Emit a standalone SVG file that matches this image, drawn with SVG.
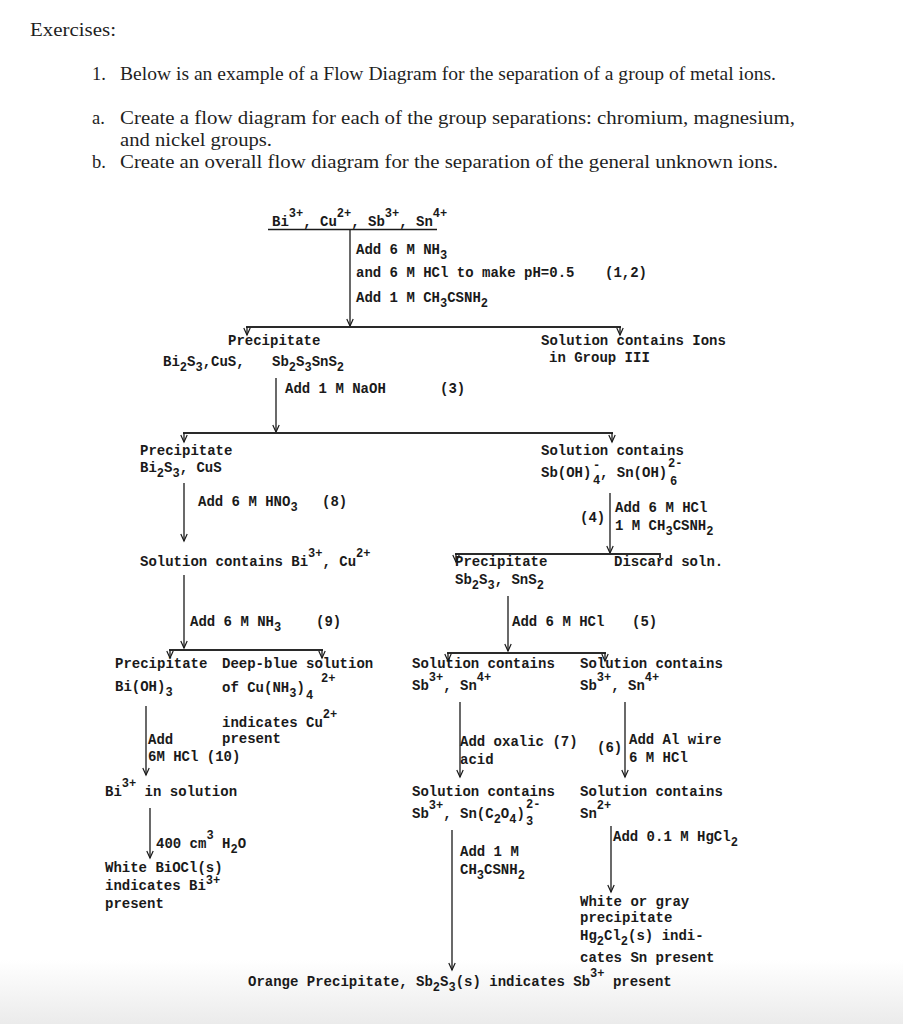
<svg xmlns="http://www.w3.org/2000/svg" width="903" height="1024" viewBox="0 0 903 1024">
<style>
.h{font-family:"Liberation Serif","Times New Roman",serif;font-size:18.5px;fill:#1f1f1f}
.t{font-family:"Liberation Mono","Courier New",monospace;font-size:14px;font-weight:bold;fill:#1a1a1a}
.s{font-size:12px}
.c{fill:none;stroke:#1a1a1a;stroke-width:1.3}
.sp{fill:none;stroke:#2a2a2a;stroke-width:1.8}
.a{marker-end:url(#ah)}
</style>
<defs>
<marker id="ah" markerUnits="userSpaceOnUse" orient="auto" refX="0" refY="0" markerWidth="10" markerHeight="10" style="overflow:visible">
<path d="M-7,-3.2 L0,0 L-7,3.2" fill="none" stroke="#1a1a1a" stroke-width="1.2"/>
</marker>
<linearGradient id="bot" x1="0" y1="0" x2="0" y2="1">
<stop offset="0" stop-color="#ffffff"/>
<stop offset="1" stop-color="#ebebeb"/>
</linearGradient>
</defs>
<rect x="0" y="0" width="903" height="1024" fill="#ffffff"/>
<rect x="0" y="960" width="903" height="64" fill="url(#bot)"/>

<g id="header">
<text class="h" x="30" y="36" textLength="86" lengthAdjust="spacingAndGlyphs">Exercises:</text>
<text class="h" x="92" y="80">1.</text>
<text class="h" x="120" y="80" textLength="656" lengthAdjust="spacingAndGlyphs">Below is an example of a Flow Diagram for the separation of a group of metal ions.</text>
<text class="h" x="92" y="124">a.</text>
<text class="h" x="120" y="124" textLength="675" lengthAdjust="spacingAndGlyphs">Create a flow diagram for each of the group separations: chromium, magnesium,</text>
<text class="h" x="120" y="146" textLength="152" lengthAdjust="spacingAndGlyphs">and nickel groups.</text>
<text class="h" x="92" y="168">b.</text>
<text class="h" x="120" y="168" textLength="658" lengthAdjust="spacingAndGlyphs">Create an overall flow diagram for the separation of the general unknown ions.</text>
</g>

<g id="connectors">
<path class="c" d="M268,229.5 H437"/>
<path class="c a" d="M350,230 V326"/>
<path class="sp" d="M246,327 H621"/>
<path class="c a" d="M247,327 V335"/>
<path class="c a" d="M620,327 V335"/>
<path class="c a" d="M276,378 V432"/>
<path class="sp" d="M183,433 H613"/>
<path class="c a" d="M184,433 V442"/>
<path class="c a" d="M612,433 V442"/>
<path class="c a" d="M184,483 V541"/>
<path class="c a" d="M610,493 V553"/>
<path class="sp" d="M455,554 H660 V558"/>
<path class="c a" d="M456,554 V562"/>
<path class="c a" d="M184,575 V648"/>
<path class="sp" d="M169,650 H323"/>
<path class="c a" d="M170,650 V658"/>
<path class="c a" d="M322,650 V658"/>
<path class="c a" d="M146,706 V775"/>
<path class="c a" d="M150,808 V858"/>
<path class="c a" d="M508,596 V651"/>
<path class="sp" d="M447,653 H606"/>
<path class="c a" d="M448,653 V661"/>
<path class="c a" d="M605,653 V661"/>
<path class="c a" d="M460,702 V777"/>
<path class="c a" d="M625,702 V777"/>
<path class="c a" d="M452,830 V970"/>
<path class="c a" d="M611,826 V892"/>
</g>

<g id="n-start">
<text class="t" x="272" y="226">Bi<tspan class="s" dy="-9">3+</tspan><tspan dy="9">, Cu</tspan><tspan class="s" dy="-9">2+</tspan><tspan dy="9">, Sb</tspan><tspan class="s" dy="-9">3+</tspan><tspan dy="9">, Sn</tspan><tspan class="s" dy="-9">4+</tspan></text>
</g>
<g id="n-step12">
<text class="t" x="356" y="254">Add 6 M NH<tspan class="s" dy="5">3</tspan></text>
<text class="t" x="356" y="277">and 6 M HCl to make pH=0.5</text>
<text class="t" x="605" y="277">(1,2)</text>
<text class="t" x="356" y="302">Add 1 M CH<tspan class="s" dy="5">3</tspan><tspan dy="-5">CSNH</tspan><tspan class="s" dy="5">2</tspan></text>
</g>
<g id="n-ppt1">
<text class="t" x="228" y="345">Precipitate</text>
<text class="t" x="163" y="366">Bi<tspan class="s" dy="5">2</tspan><tspan dy="-5">S</tspan><tspan class="s" dy="5">3</tspan><tspan dy="-5">,CuS,</tspan></text>
<text class="t" x="272" y="366">Sb<tspan class="s" dy="5">2</tspan><tspan dy="-5">S</tspan><tspan class="s" dy="5">3</tspan><tspan dy="-5">SnS</tspan><tspan class="s" dy="5">2</tspan></text>
</g>
<g id="n-groupIII">
<text class="t" x="541" y="345">Solution contains Ions</text>
<text class="t" x="549" y="362">in Group III</text>
</g>
<g id="n-step3">
<text class="t" x="285" y="393">Add 1 M NaOH</text>
<text class="t" x="440" y="393">(3)</text>
</g>
<g id="n-ppt2">
<text class="t" x="140" y="455">Precipitate</text>
<text class="t" x="140" y="472">Bi<tspan class="s" dy="5">2</tspan><tspan dy="-5">S</tspan><tspan class="s" dy="5">3</tspan><tspan dy="-5">, CuS</tspan></text>
</g>
<g id="n-soln-sbsn">
<text class="t" x="541" y="455">Solution contains</text>
<text class="t" x="541" y="477">Sb(OH)</text>
<text class="t s" x="593" y="469">-</text>
<text class="t s" x="593" y="484">4</text>
<text class="t" x="600" y="477">, Sn(OH)</text>
<text class="t s" x="668" y="467">2-</text>
<text class="t s" x="670" y="485">6</text>
</g>
<g id="n-step8">
<text class="t" x="198" y="506">Add 6 M HNO<tspan class="s" dy="5">3</tspan></text>
<text class="t" x="322" y="506">(8)</text>
</g>
<g id="n-soln-bicu">
<text class="t" x="140" y="566">Solution contains Bi<tspan class="s" dy="-9">3+</tspan><tspan dy="9">, Cu</tspan><tspan class="s" dy="-9">2+</tspan></text>
</g>
<g id="n-step4">
<text class="t" x="580" y="522">(4)</text>
<text class="t" x="615" y="512">Add 6 M HCl</text>
<text class="t" x="615" y="530">1 M CH<tspan class="s" dy="5">3</tspan><tspan dy="-5">CSNH</tspan><tspan class="s" dy="5">2</tspan></text>
</g>
<g id="n-ppt3">
<text class="t" x="455" y="566">Precipitate</text>
<text class="t" x="455" y="584">Sb<tspan class="s" dy="5">2</tspan><tspan dy="-5">S</tspan><tspan class="s" dy="5">3</tspan><tspan dy="-5">, SnS</tspan><tspan class="s" dy="5">2</tspan></text>
</g>
<g id="n-discard">
<text class="t" x="614" y="566">Discard soln.</text>
</g>
<g id="n-step9">
<text class="t" x="190" y="626">Add 6 M NH<tspan class="s" dy="5">3</tspan></text>
<text class="t" x="316" y="626">(9)</text>
</g>
<g id="n-bioh3">
<text class="t" x="115" y="668">Precipitate</text>
<text class="t" x="115" y="691">Bi(OH)<tspan class="s" dy="5">3</tspan></text>
</g>
<g id="n-deepblue">
<text class="t" x="222" y="668">Deep-blue solution</text>
<text class="t" x="222" y="692">of Cu(NH<tspan class="s" dy="5">3</tspan><tspan dy="-5">)</tspan></text>
<text class="t s" x="306" y="699">4</text>
<text class="t s" x="321" y="682">2+</text>
<text class="t" x="222" y="727">indicates Cu<tspan class="s" dy="-9">2+</tspan></text>
<text class="t" x="222" y="743">present</text>
</g>
<g id="n-step10">
<text class="t" x="148" y="744">Add</text>
<text class="t" x="148" y="761">6M HCl (10)</text>
</g>
<g id="n-bi-soln">
<text class="t" x="105" y="796">Bi<tspan class="s" dy="-9">3+</tspan><tspan dy="9"> in solution</tspan></text>
</g>
<g id="n-water">
<text class="t" x="156" y="848">400 cm<tspan class="s" dy="-9">3</tspan><tspan dy="9"> H</tspan><tspan class="s" dy="5">2</tspan><tspan dy="-5">O</tspan></text>
</g>
<g id="n-bioci">
<text class="t" x="105" y="872">White BiOCl(s)</text>
<text class="t" x="105" y="890">indicates Bi<tspan class="s" dy="-6">3+</tspan></text>
<text class="t" x="105" y="908">present</text>
</g>
<g id="n-step5">
<text class="t" x="512" y="626">Add 6 M HCl</text>
<text class="t" x="632" y="626">(5)</text>
</g>
<g id="n-soln-a">
<text class="t" x="412" y="668">Solution contains</text>
<text class="t" x="412" y="690">Sb<tspan class="s" dy="-9">3+</tspan><tspan dy="9">, Sn</tspan><tspan class="s" dy="-9">4+</tspan></text>
</g>
<g id="n-soln-b">
<text class="t" x="580" y="668">Solution contains</text>
<text class="t" x="580" y="690">Sb<tspan class="s" dy="-9">3+</tspan><tspan dy="9">, Sn</tspan><tspan class="s" dy="-9">4+</tspan></text>
</g>
<g id="n-step7">
<text class="t" x="460" y="746">Add oxalic (7)</text>
<text class="t" x="460" y="764">acid</text>
</g>
<g id="n-step6">
<text class="t" x="597" y="752">(6)</text>
<text class="t" x="629" y="744">Add Al wire</text>
<text class="t" x="629" y="762">6 M HCl</text>
</g>
<g id="n-soln-ox">
<text class="t" x="412" y="796">Solution contains</text>
<text class="t" x="412" y="818">Sb<tspan class="s" dy="-9">3+</tspan><tspan dy="9">, Sn(C</tspan><tspan class="s" dy="5">2</tspan><tspan dy="-5">O</tspan><tspan class="s" dy="5">4</tspan><tspan dy="-5">)</tspan></text>
<text class="t s" x="526" y="825">3</text>
<text class="t s" x="526" y="808">2-</text>
</g>
<g id="n-soln-sn2">
<text class="t" x="580" y="796">Solution contains</text>
<text class="t" x="580" y="818">Sn<tspan class="s" dy="-9">2+</tspan></text>
</g>
<g id="n-step-thio">
<text class="t" x="460" y="856">Add 1 M</text>
<text class="t" x="460" y="874">CH<tspan class="s" dy="5">3</tspan><tspan dy="-5">CSNH</tspan><tspan class="s" dy="5">2</tspan></text>
</g>
<g id="n-step-hg">
<text class="t" x="613" y="841">Add 0.1 M HgCl<tspan class="s" dy="5">2</tspan></text>
</g>
<g id="n-hg2cl2">
<text class="t" x="580" y="906">White or gray</text>
<text class="t" x="580" y="922">precipitate</text>
<text class="t" x="580" y="940">Hg<tspan class="s" dy="5">2</tspan><tspan dy="-5">Cl</tspan><tspan class="s" dy="5">2</tspan><tspan dy="-5">(s) indi-</tspan></text>
<text class="t" x="580" y="962">cates Sn present</text>
</g>
<g id="n-orange">
<text class="t" x="248" y="986">Orange Precipitate, Sb<tspan class="s" dy="5">2</tspan><tspan dy="-5">S</tspan><tspan class="s" dy="5">3</tspan><tspan dy="-5">(s) indicates Sb</tspan><tspan class="s" dy="-9">3+</tspan><tspan dy="9"> present</tspan></text>
</g>
</svg>
